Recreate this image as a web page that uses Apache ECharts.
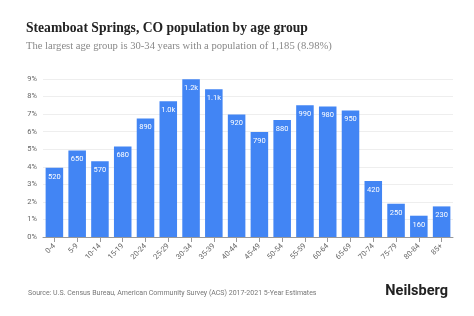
<!DOCTYPE html>
<html><head><meta charset="utf-8">
<script src="https://cdn.jsdelivr.net/npm/echarts@6/dist/echarts.min.js"></script>
<style>html,body{margin:0;padding:0;background:#fff}#c{width:474px;height:316px}</style>
</head><body><div id="c"></div>
<script>
var categories = ['0-4','5-9','10-14','15-19','20-24','25-29','30-34','35-39','40-44','45-49','50-54','55-59','60-64','65-69','70-74','75-79','80-84','85+'];
var population = [520,650,570,680,890,1020,1185,1110,920,790,880,990,980,950,420,250,160,230];
var totalPopulation = 13196;
var yTicks = [0,1,2,3,4,5,6,7,8,9];

var chart = echarts.init(document.getElementById('c'));
var data = population.map(function(v){ return {value: v/totalPopulation*100, pop: v}; });
chart.setOption({
  animation: false,
  title: [
    {text: 'Steamboat Springs, CO population by age group', left: 21, top: 16,
     textStyle: {fontFamily: 'Liberation Serif', fontSize: 13.6, fontWeight: 'bold', color: '#222'}},
    {text: 'The largest age group is 30-34 years with a population of 1,185 (8.98%)', left: 21, top: 36,
     textStyle: {fontFamily: 'Liberation Serif', fontSize: 10.6, fontWeight: 'normal', color: '#888'}},
    {text: 'Source: U.S. Census Bureau, American Community Survey (ACS) 2017-2021 5-Year Estimates', left: 23, top: 285,
     textStyle: {fontFamily: 'Roboto', fontSize: 7, fontWeight: 'normal', color: '#777'}},
    {text: 'Neilsberg', right: 21, top: 279,
     textStyle: {fontFamily: 'Roboto', fontSize: 14.5, fontWeight: 'bold', color: '#222'}}
  ],
  grid: {left: 43, right: 21, top: 79, bottom: 79, containLabel: false},
  xAxis: {
    type: 'category', data: categories,
    axisLine: {lineStyle: {color: '#999'}},
    axisTick: {show: true, alignWithLabel: true, length: 5, lineStyle: {color: '#999'}},
    axisLabel: {rotate: 45, fontSize: 7.5, color: '#666', fontFamily: 'Roboto', margin: 8, interval: 0}
  },
  yAxis: {
    type: 'value', min: yTicks[0], max: yTicks[yTicks.length-1], interval: 1,
    axisLine: {show: false}, axisTick: {show: false},
    splitLine: {lineStyle: {color: '#eee'}},
    axisLabel: {formatter: '{value}%', fontSize: 7.5, color: '#666', fontFamily: 'Roboto', margin: 6}
  },
  series: [{
    type: 'bar', data: data, barCategoryGap: '23%',
    itemStyle: {color: '#4285f4'},
    label: {show: true, position: 'insideTop', distance: 5, color: '#fff', fontSize: 7.5, fontFamily: 'Roboto',
      formatter: function(p){ var v = p.data.pop; return v >= 1000 ? (v/1000).toFixed(1)+'k' : String(v); }}
  }]
});
</script></body></html>
